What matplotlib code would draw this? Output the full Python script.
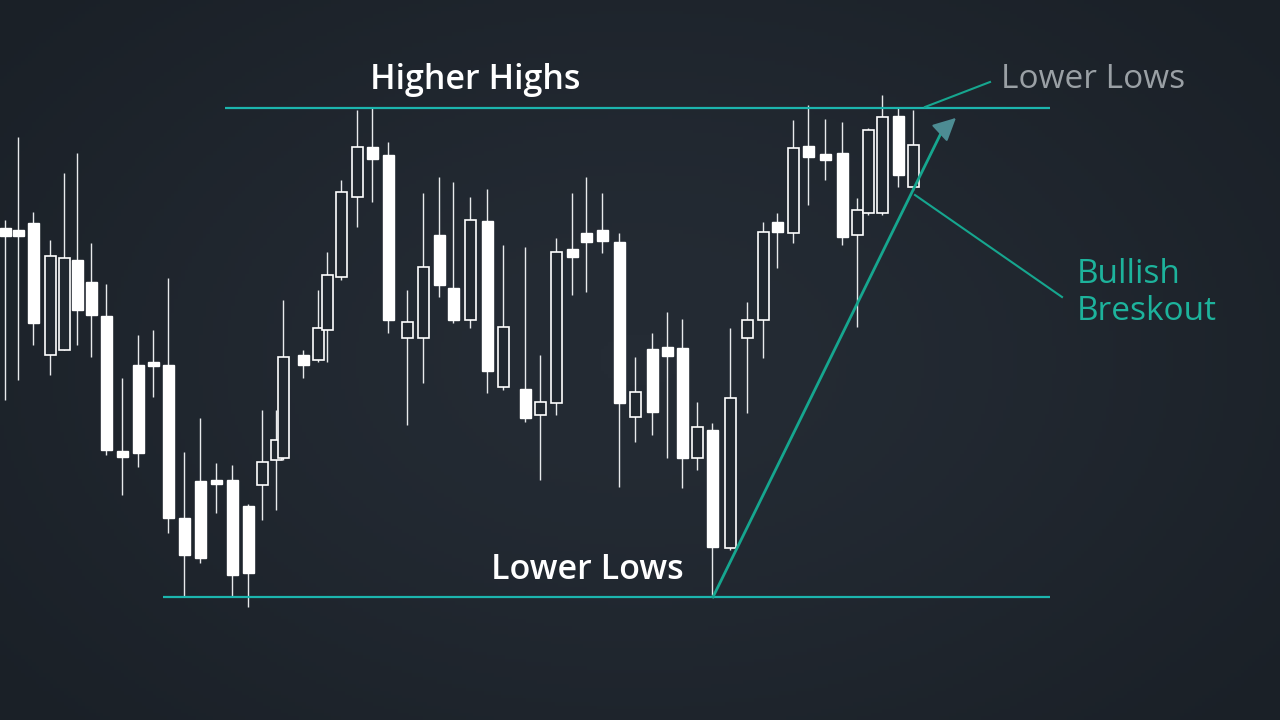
import numpy as np
import matplotlib
matplotlib.use('Agg')
import matplotlib.pyplot as plt
from matplotlib.patches import Rectangle

BG = '#20272f'
TEAL = '#1cb5ae'
TREND = '#16a68f'
TEXT_TEAL = '#1db39c'

# candle positions (time axis) and OHLC prices
t = [5, 18, 33, 50, 64, 77, 91, 106, 122, 138, 153, 168, 184, 200, 216, 232, 248, 262, 276, 283,
     303, 318, 327, 341, 357, 372, 388, 407, 423, 439, 453, 470, 487, 503, 525, 540, 556, 572, 586, 602,
     619, 635, 652, 667, 682, 697, 712, 730, 747, 763, 777, 793, 808, 825, 842, 857, 868, 882, 898, 913]
opens = [492, 490, 497, 365, 370, 460, 438, 404, 269, 355, 358, 355, 202, 239, 240, 240, 214, 235, 260, 262,
         365, 360, 390, 443, 523, 573, 565, 382, 382, 485, 432, 400, 499, 333, 331, 305, 317, 471, 487, 490,
         478, 303, 371, 373, 372, 262, 290, 172, 382, 400, 498, 487, 574, 566, 567, 485, 507, 507, 604, 533]
highs = [500, 583, 508, 480, 547, 567, 477, 436, 342, 385, 390, 442, 268, 302, 257, 255, 216, 310, 310, 420,
         370, 430, 468, 540, 610, 612, 578, 430, 527, 543, 538, 523, 531, 475, 473, 365, 482, 527, 543, 527,
         487, 363, 387, 408, 401, 318, 297, 392, 418, 498, 507, 600, 615, 601, 598, 522, 592, 625, 612, 610]
lows = [320, 340, 375, 345, 370, 375, 363, 265, 225, 253, 323, 187, 123, 157, 207, 123, 113, 200, 210, 260,
        342, 358, 358, 440, 493, 518, 387, 295, 337, 423, 397, 392, 327, 330, 298, 240, 305, 425, 428, 467,
        233, 278, 285, 262, 232, 250, 125, 170, 307, 362, 452, 477, 515, 540, 475, 393, 505, 505, 533, 530]
closes = [484, 484, 397, 464, 462, 410, 405, 270, 263, 267, 354, 202, 165, 162, 236, 145, 147, 258, 280, 363,
          355, 392, 445, 528, 573, 561, 400, 398, 453, 435, 400, 500, 349, 393, 302, 318, 468, 463, 478, 479,
          317, 328, 308, 364, 262, 293, 173, 322, 400, 488, 488, 572, 563, 560, 483, 510, 590, 603, 545, 575]

resistance = 612
support = 123

fig = plt.figure(figsize=(12.8, 7.2), dpi=100, facecolor=BG)
ax = fig.add_axes([0, 0, 1, 1])
ax.set_facecolor(BG)
ax.set_xlim(0, 1280)
ax.set_ylim(0, 720)
ax.axis('off')

# soft vignette
yy, xx = np.mgrid[0:1:200j, 0:1:360j]
glow = np.exp(-(((xx - 0.5) / 0.6) ** 2 + ((yy - 0.5) / 0.7) ** 2))
ax.imshow(glow, extent=(0, 1280, 0, 720), cmap=matplotlib.colors.LinearSegmentedColormap.from_list(
    'bg', ['#1a2027', '#242b34']), aspect='auto', zorder=0)

w = 11
for x, o, h, l, c in zip(t, opens, highs, lows, closes):
    ax.vlines(x, l, h, color='#e8eaec', lw=1.0, zorder=3)
    bottom, top = min(o, c), max(o, c)
    if c > o:
        ax.add_patch(Rectangle((x - w / 2, bottom), w, top - bottom, facecolor=BG,
                               edgecolor='white', lw=1.2, zorder=4))
    else:
        ax.add_patch(Rectangle((x - w / 2, bottom), w, max(top - bottom, 4), facecolor='white',
                               edgecolor='white', lw=1.0, zorder=4))

# range lines
ax.hlines(resistance, 225, 1050, color=TEAL, lw=1.6, zorder=5)
ax.hlines(support, 163, 1050, color=TEAL, lw=1.6, zorder=5)

# breakout trend line + arrow
ax.plot([713, 945], [support, 595], color=TREND, lw=2, zorder=6)
ax.annotate('', xy=(958, 604), xytext=(943, 590),
            arrowprops=dict(arrowstyle='-|>,head_length=1.4,head_width=0.7',
                            color='#4d8c93', lw=1.5), zorder=7)

# leader lines
ax.plot([925, 990], [613, 638], color=TREND, lw=1.5, zorder=6)
ax.plot([915, 1062], [525, 423], color=TREND, lw=1.5, zorder=6)

font = ['Open Sans', 'DejaVu Sans']
ax.text(475, 640, 'Higher Highs', color='white', fontsize=24.5, ha='center', va='center',
        family=font, fontweight='semibold', zorder=8)
ax.text(587, 150, 'Lower Lows', color='white', fontsize=24.5, ha='center', va='center',
        family=font, fontweight='semibold', zorder=8)
ax.text(1093, 640, 'Lower Lows', color='#9aa0a5', fontsize=24, ha='center', va='center',
        family=font, fontweight='medium', zorder=8)
ax.text(1077, 427, 'Bullish\nBreskout', color=TEXT_TEAL, fontsize=24, ha='left', va='center',
        family=font, fontweight='medium', linespacing=1.15, zorder=8)

fig.savefig('out.png', dpi=100, facecolor=BG)
